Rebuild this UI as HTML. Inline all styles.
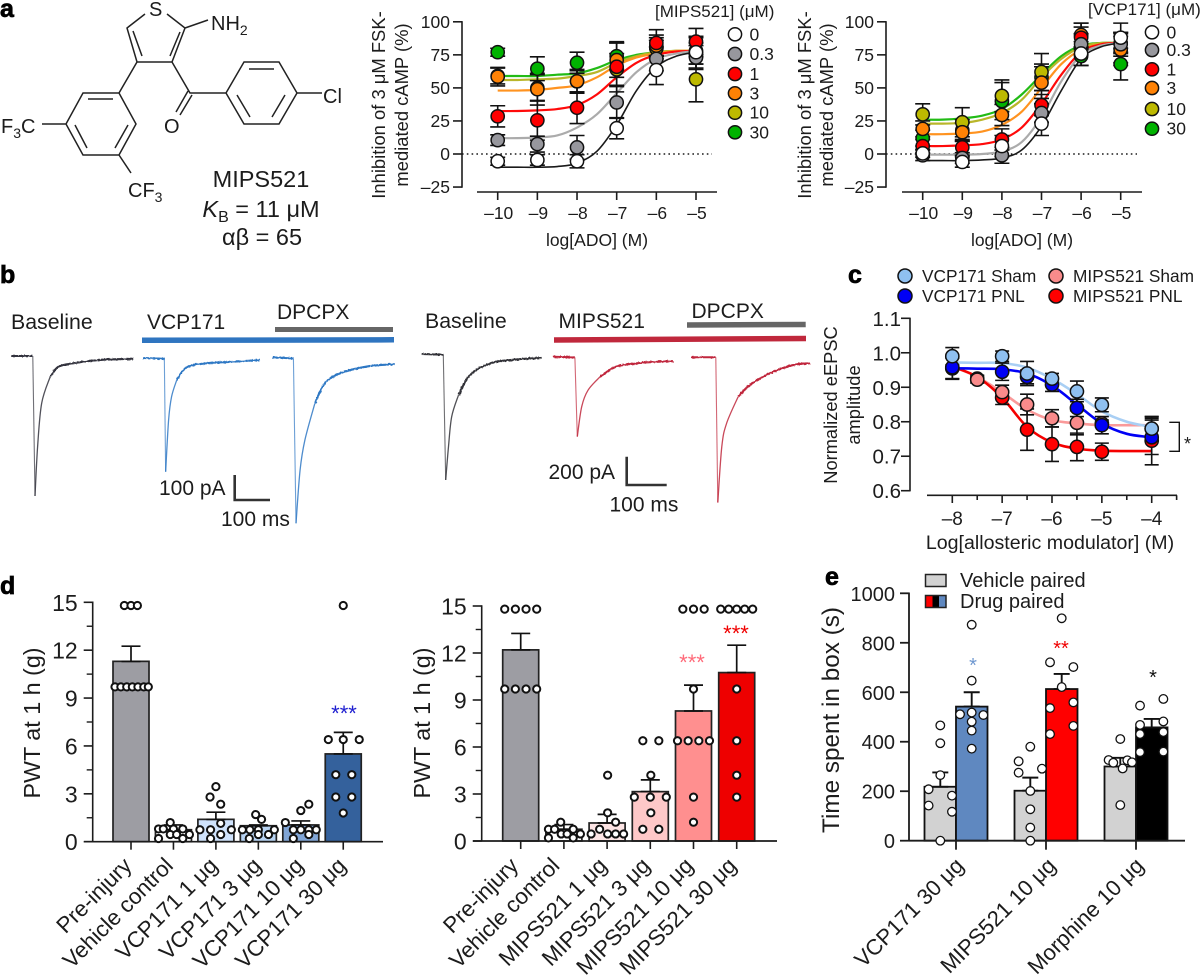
<!DOCTYPE html>
<html lang="en">
<head>
<meta charset="utf-8">
<title>MIPS521 and VCP171 figure</title>
<style>
html,body{margin:0;padding:0;background:#fff;}
svg{display:block;}
text{font-family:"Liberation Sans",Arial,sans-serif;fill:#1c1c1c;}
.lbl{font-weight:bold;font-size:25px;stroke:#000;stroke-width:.7px;fill:#000;}
.mol{font-size:20px;}
.mol2{font-size:23.5px;}
</style>
</head>
<body>
<svg id="fig" xmlns="http://www.w3.org/2000/svg" width="1200" height="977" viewBox="0 0 1200 977">
<defs>
<filter id="noise" filterUnits="userSpaceOnUse" x="0" y="200" width="1200" height="360"><feTurbulence type="fractalNoise" baseFrequency="0.45" numOctaves="2" seed="4"/><feDisplacementMap in="SourceGraphic" scale="2.2" xChannelSelector="R" yChannelSelector="G"/></filter>
</defs>
<rect x="0" y="0" width="1200" height="977" fill="#fff"/>
<text class="lbl" x="0" y="17">a</text>
<text class="lbl" x="0" y="283">b</text>
<text class="lbl" x="848" y="283">c</text>
<text class="lbl" x="0" y="594">d</text>
<text class="lbl" x="825" y="585">e</text>

<g>
<path fill="none" stroke="#222" stroke-width="1.5" d="M145 14L127 28L137 62L172 62L185 28L167 14M133 31L142 56M180 32L170 56M185 28L208 20M172 62L190 93L226 93L244 62L279 62L297 93L279 124L244 124L226 93M249 69L274 69M237 95L250 117M285 95L272 117M297 93L322 93M188 91L176 112M192 95L180 115M137 62L119 93L83 93L66 124L83 155L119 155L136 124L119 93M88 99L113 99M75 125L87 148M128 125L115 148M119 155L131 173M66 124L42 124"/>
<text class="mol" x="149" y="16">S</text>
<text class="mol" x="211" y="30">NH<tspan font-size="14" dy="5">2</tspan></text>
<text class="mol" x="323" y="103">Cl</text>
<text class="mol" x="164" y="133">O</text>
<text class="mol" x="1" y="133">F<tspan font-size="14" dy="5">3</tspan><tspan dy="-5">C</tspan></text>
<text class="mol" x="128" y="197">CF<tspan font-size="14" dy="5">3</tspan></text>
<text class="mol2" x="261" y="187" text-anchor="middle">MIPS521</text>
<text class="mol2" x="261" y="217" text-anchor="middle"><tspan font-style="italic">K</tspan><tspan font-size="16" dy="5">B</tspan><tspan dy="-5"> = 11 μM</tspan></text>
<text class="mol2" x="262" y="245" text-anchor="middle">αβ = 65</text>
</g>
<g id="layer"></g>
</svg>
<script>
// ---------- Panel a (left) : MIPS521 ----------
const concLabelsA = ['0','0.3','1','3','10','30'];
const logAdo = [-10,-9,-8,-7,-6,-5];
const curveLogX = [-10,-9.5,-9,-8.5,-8,-7.5,-7,-6.5,-6,-5.5,-5];
const a1Means0 = [-5.5,-4.5,-5.5,19.5,63.5,77];
const a1Means03 = [10.5,7.5,5,39,72,73];
const a1Means1 = [28.5,25.5,35,66,84,85];
const a1Means3 = [58.5,49,55,71,82,78];
const a1Means10 = [59,50,55,64,80,56.5];
const a1Means30 = [77,64.5,69,74,80,76];
const a1Errs0 = [3,4,5,8,11,12];
const a1Errs03 = [4,6,9,12,9,9];
const a1Errs1 = [8,15,12,19,10,10];
const a1Errs3 = [7,12,9,13,8,10];
const a1Errs10 = [6,10,8,12,8,17];
const a1Errs30 = [3,9,8,10,6,8];
const a1Curve0 = [-10,-10,-10,-9.5,-7,2,22,48,66,74,77];
const a1Curve03 = [12,12,12.5,14,20,30,46,62,72,76,78];
const a1Curve1 = [32.5,32.5,33,34,37,45,58,69,75,77.5,78];
const a1Curve3 = [48,48,48.5,50,52,58,67,73,76,78,78];
const a1Curve10 = [56,56,56.5,57,59,62,69,74,77,78,78];
const a1Curve30 = [59,59,59,60,61,65,71,75,77,78,78];
// ---------- Panel a (right) : VCP171 ----------
const a2Means0 = [0.5,-6,6,23,76,88];
const a2Means03 = [-1,-3,-1,31,83,83];
const a2Means1 = [6,5,11,37,88,84];
const a2Means3 = [19,16.5,29.5,54,90,79];
const a2Means10 = [30,24,44,62,89,79];
const a2Means30 = [12,18,40,58,74,68];
const a2Errs0 = [3,4,8,9,9,11];
const a2Errs03 = [4,4,6,7,8,9];
const a2Errs1 = [5,6,8,8,8,8];
const a2Errs3 = [6,7,8,12,9,10];
const a2Errs10 = [8,11,12,14,10,12];
const a2Errs30 = [6,8,14,10,7,12];
const a2Curve0 = [-5,-5,-5,-4.5,-3,3,21,48,72,81,84];
const a2Curve03 = [-0.5,-0.5,-0.5,0,2,9,28,55,75,82,84];
const a2Curve1 = [6,6,6.5,7.5,11,20,38,60,77,83,84];
const a2Curve3 = [15,15,15.5,17,22,32,50,68,79,83,84];
const a2Curve10 = [23,23,23.5,26,31,41,58,72,81,84,84];
const a2Curve30 = [26,26,27,29,34,45,60,74,82,84,84];
const aTicksY = [-25,0,25,50,75,100];
// ---------- Panel b traces (time ms, current pA) ----------
const baseLTime = [0,57,63,70,81,104,126,167,239,329];
const baseLCur = [0,0,-560,-363,-189,-83,-43,-29,-16,-11];
const vcpTime = [0,58.5,62,70,78,92,119,173,245,317];
const vcpCur = [0,-3,-455,-248,-155,-88,-37,-21,-15,-8];
const vcpDpTime = [0,56,63,74,87,114,141,182,254,330];
const vcpDpCur = [0,-5,-664,-451,-331,-184,-104,-64,-37,-27];
const baseRTime = [0,54,60,67,75,92,121,171,237,300];
const baseRCur = [0,-5,-887,-652,-441,-289,-148,-66,-38,-28];
const mipsTime = [0,54,60,71,87,117,158,225,300];
const mipsCur = [0,-5,-563,-352,-235,-141,-70,-42,-31];
const mipsDpTime = [0,62,67,77,89,118,147,197,256,297];
const mipsDpCur = [0,0,-1023,-629,-465,-277,-195,-113,-54,-42];
// ---------- Panel c ----------
const cTicksY = [0.6,0.7,0.8,0.9,1.0,1.1];
const cTicksX = [-8,-7,-6,-5,-4];
const cMinorX = [-8,-7.5,-7,-6.5,-6,-5.5,-5,-4.5,-4,-3.5];
const cLogX = [-8,-7.5,-7,-6.5,-6,-5.5,-5,-4];
const cCurveX = [-8,-7.5,-7,-6.5,-6,-5.5,-5,-4.5,-4];
const cVcpShamMeans = [0.99,null,0.99,0.94,0.925,0.888,0.849,0.78];
const cVcpShamErrs = [0.025,0,0.015,0.035,0.015,0.03,0.02,0.035];
const cVcpPnlMeans = [0.958,null,0.945,0.93,0.908,0.84,0.79,0.755];
const cVcpPnlErrs = [0.035,0,0.025,0.02,0.02,0.025,0.025,0.05];
const cMipsShamMeans = [0.955,0.922,0.886,0.85,0.81,0.797,0.795,0.78];
const cMipsShamErrs = [0.03,0.01,0.02,0.03,0.025,0.035,0.01,0.03];
const cMipsPnlMeans = [0.955,0.925,0.87,0.777,0.735,0.727,0.713,0.745];
const cMipsPnlErrs = [0.03,0.01,0.02,0.06,0.05,0.04,0.025,0.07];
const cVcpShamCurve = [0.972,0.971,0.97,0.957,0.925,0.88,0.83,0.80,0.785];
const cVcpPnlCurve = [0.955,0.954,0.952,0.94,0.905,0.85,0.795,0.765,0.755];
const cMipsShamCurve = [0.96,0.93,0.885,0.835,0.805,0.795,0.79,0.79,0.79];
const cMipsPnlCurve = [0.96,0.93,0.87,0.785,0.74,0.722,0.716,0.715,0.715];
// ---------- Panel d ----------
const dTicksY = [0,3,6,9,12,15];
const dMinorY = [1.5,4.5,7.5,10.5,13.5];
const d1Cats = ['Pre-injury','Vehicle control','VCP171 1 μg','VCP171 3 μg','VCP171 10 μg','VCP171 30 μg'];
const d1Means = [11.3,0.75,1.4,1.0,1.05,5.5];
const d1ErrTops = [12.25,1.05,1.85,1.05,1.3,6.85];
const d1Dots0 = [14.8,14.8,14.8,9.7,9.7,9.7,9.7,9.7,9.7,9.7];
const d1Slots0 = [-1.25,0,1.2,-3,-1.9,-0.8,0.25,1.3,2.4,3.25];
const d1Dots1 = [0.8,0.8,0.8,0.8,1.2,0.45,0.45,0.45,0.2,0.2];
const d1Slots1 = [-2.8,-1.9,0,1.75,-0.6,-0.6,0.6,3,-2.8,1.75];
const d1Dots2 = [3.45,2.8,2.35,1.15,0.75,0.75,0.75,0.45,0.2];
const d1Slots2 = [0,-1.1,0.9,0.9,-3,-1,2.9,0.9,-1];
const d1Dots3 = [1.7,1.4,0.75,0.75,0.75,0.75,0.45,0.45,0.2];
const d1Slots3 = [-0.5,0.6,-3,-1.6,0,3,0,1.9,-1.7];
const d1Dots4 = [2.35,1.95,1.2,0.75,0.75,0.75,0.75,0.45,0.2];
const d1Slots4 = [1.5,0,-2.9,-1.4,0,1.5,2.9,1.5,-1.4];
const d1Dots5 = [14.8,6.4,6.4,6.4,4.2,4.2,2.8,2.8,1.8];
const d1Slots5 = [0,-2.8,0,3,-1.4,1.6,-1.4,1.6,0];
const d2Cats = ['Pre-injury','Vehicle control','MIPS521 1 μg','MIPS521 3 μg','MIPS521 10 μg','MIPS521 30 μg'];
const d2Means = [12.2,0.75,1.15,3.15,8.3,10.75];
const d2ErrTops = [13.25,1.05,1.7,3.9,9.95,12.5];
const d2Dots0 = [14.8,14.8,14.8,14.8,9.7,9.7,9.7,9.7];
const d2Slots0 = [-3,-1,1,3,-3,-1,1,3];
const d2Dots1 = [0.75,0.75,1.2,0.75,0.45,0.45,0.45,0.2,0.2];
const d2Slots1 = [-2.9,-1.75,-0.6,1.75,-0.5,0.6,3.1,-2.9,1.75];
const d2Dots2 = [4.2,1.8,1.2,0.75,0.45,0.45,0.45,0.45];
const d2Slots2 = [0.1,0.1,1.6,-1.4,-3,0.1,1.6,3.1];
const d2Dots3 = [6.4,6.4,4.2,2.8,2.8,2.8,1.8,0.75,0.75];
const d2Slots3 = [-1.4,1.6,0.1,-3,0,3,0.1,-1.4,1.6];
const d2Dots4 = [14.8,14.8,14.8,9.7,6.4,6.4,6.4,6.4,2.8,1.2];
const d2Slots4 = [-2,0,2,0,-3,-1,1,3,0,0];
const d2Dots5 = [14.8,14.8,14.8,14.8,14.8,9.7,6.4,4.2,2.8];
const d2Slots5 = [-3,-1.5,0,1.5,3,0,0,0,0];
// ---------- Panel e ----------
const eTicksY = [0,200,400,600,800,1000];
const eCats = ['VCP171 30 μg','MIPS521 10 μg','Morphine 10 μg'];
const eVehicleMeans = [218,202,300];
const eVehicleErrTops = [276,255,335];
const eDrugMeans = [542,613,458];
const eDrugErrTops = [600,674,492];
const eVeh0 = [466,394,265,208,182,142,117,0];
const eVehS0 = [0,0,0,-1,1,-1,1,0];
const eDrug0 = [873,647,511,518,508,481,445,372];
const eDrugS0 = [0,0,-1,0,1,0,0,0];
const eVeh1 = [380,321,291,275,201,127,53,0];
const eVehS1 = [0,-1,1,-1,0,0,0,0];
const eDrug1 = [899,721,702,621,536,559,464,431];
const eDrugS1 = [0,-1,1,0,-1,1,1,-1];
const eVeh2 = [411,326,315,325,317,292,144];
const eVehS2 = [0,-1,-0.6,0.6,1,0.2,0];
const eDrug2 = [573,546,468,482,431,439,358,360];
const eDrugS2 = [1,-1,-1,1,-1,1,-1,1];

const NS = 'http://www.w3.org/2000/svg';
const root = document.getElementById('layer');
function mk(tag, attrs, parent) {
  const el = document.createElementNS(NS, tag);
  for (const k in attrs) el.setAttribute(k, attrs[k]);
  (parent || root).appendChild(el);
  return el;
}
function scale(d0, d1, r0, r1) { return v => r0 + (v - d0) * (r1 - r0) / (d1 - d0); }
function smooth(pts) {
  let d = 'M' + pts[0][0].toFixed(2) + ' ' + pts[0][1].toFixed(2);
  for (let i = 0; i < pts.length - 1; i++) {
    const p0 = pts[Math.max(i - 1, 0)], p1 = pts[i], p2 = pts[i + 1], p3 = pts[Math.min(i + 2, pts.length - 1)];
    d += 'C' + (p1[0] + (p2[0] - p0[0]) / 6).toFixed(2) + ' ' + (p1[1] + (p2[1] - p0[1]) / 6).toFixed(2) + ' ' +
      (p2[0] - (p3[0] - p1[0]) / 6).toFixed(2) + ' ' + (p2[1] - (p3[1] - p1[1]) / 6).toFixed(2) + ' ' +
      p2[0].toFixed(2) + ' ' + p2[1].toFixed(2);
  }
  return d;
}
function line(x1, y1, x2, y2, w, name, parent, col) {
  const el = mk('line', {x1: x1, y1: y1, x2: x2, y2: y2, stroke: col || '#1c1c1c', 'stroke-width': w}, parent);
  
  
  return el;
}
function label(str, x, y, size, anchor, name, parent, extra) {
  const attrs = {x: x, y: y, 'font-size': size, 'text-anchor': anchor || 'start'};
  if (extra) for (const k in extra) attrs[k] = extra[k];
  const el = mk('text', attrs, parent);
  el.textContent = str;
  
  
  return el;
}
function fmtMinus(v) { return v < 0 ? '–' + Math.abs(v) : String(v); }
function circle(cx, cy, r, fill, sw, name, parent) {
  const el = mk('circle', {cx: cx, cy: cy, r: r, fill: fill, stroke: '#111', 'stroke-width': sw}, parent);
  
  
  return el;
}
function errBar(cx, y1, y2, capW, name, parent) {
  const g = mk('path', {d: 'M' + cx + ' ' + y1 + 'V' + y2 + 'M' + (cx - capW) + ' ' + y1 + 'H' + (cx + capW) + 'M' + (cx - capW) + ' ' + y2 + 'H' + (cx + capW), fill: 'none', stroke: '#111', 'stroke-width': 1.6}, parent);
  
  
  return g;
}

// ===== Dose-response panels a =====
const seriesColors = ['#ffffff','#97979d','#ff0000','#ff8205','#bdb900','#00b300'];
const lineColors = ['#1a1a1a','#ababab','#ff0a0a','#ff9320','#b9b62a','#22bb16'];
function doseChart(o) {
  const g = mk('g', {});
  
  
  const x = scale(-10, -5, o.x10, o.x5), y = scale(0, 100, 154, 21.8);
  line(o.yAxisX, y(100) - 0.7, o.yAxisX, y(-25) + 0.7, 1.6, 'y-axis', g);
  line(o.xAxis0, 192, o.xAxis1, 192, 1.6, 'x-axis', g);
  aTicksY.forEach(t => {
    line(o.yAxisX - 9, y(t), o.yAxisX, y(t), 1.6, 'y-tick', g);
    label(fmtMinus(t), o.yAxisX - 12, y(t) + 6, 17.5, 'end', 'y-tick-label', g);
  });
  logAdo.forEach(t => {
    line(x(t), 192, x(t), 200, 1.6, 'x-tick', g);
    label(fmtMinus(t), x(t) + 1, 219, 17.5, 'middle', 'x-tick-label', g);
  });
  const zero = line(o.yAxisX, y(0), o.zeroEnd, y(0), 1.5, 'zero-reference-line', g);
  zero.setAttribute('stroke-dasharray', '1.6 3.2');
  label('Inhibition of 3 μM FSK-', o.title1, 105, 18.4, 'middle', 'y-axis-title-line-1', g, {transform: 'rotate(-90 ' + o.title1 + ' 105)'});
  label('mediated cAMP (%)', o.title2, 105, 18.4, 'middle', 'y-axis-title-line-2', g, {transform: 'rotate(-90 ' + o.title2 + ' 105)'});
  label('log[ADO] (M)', o.xTitle, 246, 17.5, 'middle', 'x-axis-title', g);
  for (let s = 5; s >= 0; s--) {
    const pts = curveLogX.map((lx, i) => [x(lx), y(o.curves[s][i])]);
    const c = mk('path', {d: smooth(pts), fill: 'none', stroke: lineColors[s], 'stroke-width': s === 0 ? 1.6 : 2.2}, g);
    
    
  }
  for (let s = 5; s >= 0; s--) {
    logAdo.forEach((lx, i) => {
      const m = o.means[s][i], e = o.errs[s][i];
      errBar(x(lx), y(m - e), y(m + e), 7.5, 'error-bar-' + concLabelsA[s], g);
    });
  }
  for (let s = 5; s >= 0; s--) {
    logAdo.forEach((lx, i) => {
      circle(x(lx), y(o.means[s][i]), 6.6, seriesColors[s], 1.5, 'point-' + concLabelsA[s], g);
    });
  }
  label(o.legendTitle, o.legendTitleX, o.legendTitleY, 17, 'start', 'legend-title', g);
  concLabelsA.forEach((c, i) => {
    circle(o.legX, o.legY[i], 6.6, seriesColors[i], 1.5, 'legend-marker-' + c, g);
    label(c, o.legX + 14.5, o.legY[i] + 6, 17.5, 'start', 'legend-label-' + c, g);
  });
}
doseChart({name: 'mips521-dose-response-chart', x10: 497.7, x5: 696, yAxisX: 462, xAxis0: 477, xAxis1: 717, zeroEnd: 712, title1: 385, title2: 408, xTitle: 597,
  curves: [a1Curve0,a1Curve03,a1Curve1,a1Curve3,a1Curve10,a1Curve30],
  means: [a1Means0,a1Means03,a1Means1,a1Means3,a1Means10,a1Means30],
  errs: [a1Errs0,a1Errs03,a1Errs1,a1Errs3,a1Errs10,a1Errs30],
  legendTitle: '[MIPS521] (μM)', legendTitleX: 655, legendTitleY: 17, legX: 735, legY: [34.3,54,74,93.3,112.7,132.3]});
doseChart({name: 'vcp171-dose-response-chart', x10: 922.7, x5: 1120.7, yAxisX: 886, xAxis0: 902, xAxis1: 1142, zeroEnd: 1137, title1: 811, title2: 833, xTitle: 1022,
  curves: [a2Curve0,a2Curve03,a2Curve1,a2Curve3,a2Curve10,a2Curve30],
  means: [a2Means0,a2Means03,a2Means1,a2Means3,a2Means10,a2Means30],
  errs: [a2Errs0,a2Errs03,a2Errs1,a2Errs3,a2Errs10,a2Errs30],
  legendTitle: '[VCP171] (μM)', legendTitleX: 1088, legendTitleY: 15, legX: 1152, legY: [32.3,50,69.3,88,109,128.7]});

// ===== Panel b =====
function trace(times, cur, x0, y0, pxMs, pxPa, col, name) {
  const sx = t => x0 + t * pxMs, sy = c => y0 - c * pxPa;
  const spike = cur.indexOf(Math.min.apply(null, cur));
  const p1 = times.slice(0, spike + 1).map((t, i) => [sx(t), sy(cur[i])]);
  const p2 = times.slice(spike).map((t, i) => [sx(t), sy(cur[spike + i])]);
  const pre = mk('polyline', {points: p1.slice(spike - 1).map(p => p.join(',')).join(' '), fill: 'none', stroke: col, 'stroke-width': 1.1, 'stroke-linejoin': 'round', opacity: 0.7});
  
  
  const base = mk('polyline', {points: p1.slice(0, spike).map(p => p.join(',')).join(' '), fill: 'none', stroke: col, 'stroke-width': 2, filter: 'url(#noise)'});
  
  
  const fall = mk('path', {d: smooth(p2.slice(0, 4)), fill: 'none', stroke: col, 'stroke-width': 1.3, opacity: 0.85});
  
  
  const dec = mk('path', {d: smooth(p2.slice(3)), fill: 'none', stroke: col, 'stroke-width': 2.1, filter: 'url(#noise)'});
  
  
}
const pbL = 0.37, paL = 0.25, pbR = 0.4, paR = 0.142;
trace(baseLTime, baseLCur, 11.7, 356, pbL, paL, '#33333d', 'baseline-trace-vcp171');
trace(vcpTime, vcpCur, 142.7, 358, pbL, paL, '#2f78c4', 'vcp171-trace');
trace(vcpDpTime, vcpDpCur, 272.7, 357.3, pbL, paL, '#2f78c4', 'vcp171-dpcpx-trace');
trace(baseRTime, baseRCur, 421.7, 354, pbR, paR, '#333338', 'baseline-trace-mips521');
trace(mipsTime, mipsCur, 553.3, 356.7, pbR, paR, '#c0283c', 'mips521-trace');
trace(mipsDpTime, mipsDpCur, 691, 357.3, pbR, paR, '#c0283c', 'mips521-dpcpx-trace');
line(275, 329.5, 393, 329.5, 5, 'dpcpx-bar-left', null, '#666');
line(142, 340.3, 394, 339.8, 5.5, 'vcp171-bar', null, '#2f75c0');
line(687, 325, 805.7, 324.5, 5.5, 'dpcpx-bar-right', null, '#666');
line(554, 340, 806, 338.5, 5.5, 'mips521-bar', null, '#c0283c');
label('Baseline', 11, 329, 21.3, 'start', 'baseline-label-left');
label('VCP171', 147, 329, 21, 'start', 'vcp171-label');
label('DPCPX', 277, 319, 21, 'start', 'dpcpx-label-left');
label('100 pA', 159, 495, 21, 'start', 'scale-current-label-left');
label('100 ms', 221, 526, 21, 'start', 'scale-time-label-left');
label('Baseline', 425, 328, 21.3, 'start', 'baseline-label-right');
label('MIPS521', 558.5, 328, 21, 'start', 'mips521-label');
label('DPCPX', 691.5, 318, 21, 'start', 'dpcpx-label-right');
label('200 pA', 548.5, 479, 21, 'start', 'scale-current-label-right');
label('100 ms', 609.5, 511.5, 21, 'start', 'scale-time-label-right');
const sb1 = mk('path', {d: 'M234.7 475V500H270', fill: 'none', stroke: '#333', 'stroke-width': 2.6});


const sb2 = mk('path', {d: 'M626.7 456.7V485H666.7', fill: 'none', stroke: '#333', 'stroke-width': 2.6});



// ===== Panel c =====
(function () {
  const g = mk('g', {});
  
  
  const x = scale(-8, -4, 952.3, 1151.7), y = scale(0.6, 1.1, 490.7, 318.3);
  line(910, y(1.1) - 0.7, 910, y(0.6) + 0.7, 1.6, 'y-axis', g);
  line(927, 495.3, 1177, 495.3, 1.6, 'x-axis', g);
  cTicksY.forEach(t => {
    line(901, y(t), 910, y(t), 1.6, 'y-tick', g);
    label(t.toFixed(1), 901, y(t) + 7.5, 20.5, 'end', 'y-tick-label', g);
  });
  cMinorX.forEach(t => line(x(t), 495.3, x(t), Number.isInteger(t) ? 503 : 500, 1.6, 'x-tick', g));
  cTicksX.forEach(t => label(fmtMinus(t), x(t), 525, 19, 'middle', 'x-tick-label', g));
  label('Log[allosteric modulator] (M)', 1050, 549, 19.6, 'middle', 'x-axis-title', g);
  label('Normalized eEPSC', 837, 405, 18.3, 'middle', 'y-axis-title-line-1', g, {transform: 'rotate(-90 837 405)'});
  label('amplitude', 860, 405, 18.3, 'middle', 'y-axis-title-line-2', g, {transform: 'rotate(-90 860 405)'});
  const sets = [
    {k: 'mips521-pnl', col: '#ff0000', line: '#f50000', m: cMipsPnlMeans, e: cMipsPnlErrs, c: cMipsPnlCurve},
    {k: 'mips521-sham', col: '#f98b8b', line: '#fa9a9a', m: cMipsShamMeans, e: cMipsShamErrs, c: cMipsShamCurve},
    {k: 'vcp171-pnl', col: '#0000f5', line: '#0000f5', m: cVcpPnlMeans, e: cVcpPnlErrs, c: cVcpPnlCurve},
    {k: 'vcp171-sham', col: '#8fc0f0', line: '#a9cff4', m: cVcpShamMeans, e: cVcpShamErrs, c: cVcpShamCurve}];
  [1,3,0,2].forEach(i => {
    const s = sets[i];
    const p = mk('path', {d: smooth(cCurveX.map((lx, j) => [x(lx), y(s.c[j])])), fill: 'none', stroke: s.line, 'stroke-width': 2.6}, g);
    
    
  });
  sets.forEach(s => cLogX.forEach((lx, j) => {
    if (s.m[j] !== null && s.e[j] > 0) errBar(x(lx), y(s.m[j] - s.e[j]), y(s.m[j] + s.e[j]), 7, 'error-bar-' + s.k, g);
  }));
  sets.forEach(s => cLogX.forEach((lx, j) => {
    if (s.m[j] !== null) circle(x(lx), y(s.m[j]), 6.6, s.col, 1.5, 'point-' + s.k, g);
  }));
  circle(905, 276, 7, '#8fc0f0', 1.5, 'legend-marker-vcp171-sham', g);
  circle(905, 296, 7, '#0000f5', 1.5, 'legend-marker-vcp171-pnl', g);
  circle(1056, 276, 7, '#f98b8b', 1.5, 'legend-marker-mips521-sham', g);
  circle(1056, 296, 7, '#ff0000', 1.5, 'legend-marker-mips521-pnl', g);
  label('VCP171 Sham', 922, 282, 17.3, 'start', 'legend-label-vcp171-sham', g);
  label('VCP171 PNL', 922, 302, 17.3, 'start', 'legend-label-vcp171-pnl', g);
  label('MIPS521 Sham', 1073, 282, 17.3, 'start', 'legend-label-mips521-sham', g);
  label('MIPS521 PNL', 1073, 302, 17.3, 'start', 'legend-label-mips521-pnl', g);
  const br = mk('path', {d: 'M1169.3 422.3H1179.3V451.3H1169.3', fill: 'none', stroke: '#111', 'stroke-width': 1.4}, g);
  
  
  label('*', 1184, 450, 18, 'start', 'significance-star', g);
})();

// ===== Panel d =====
function barChart(o) {
  const g = mk('g', {});
  
  
  const y = scale(0, 15, o.y0, o.y15);
  line(o.axisX, o.y15 - 0.8, o.axisX, o.y0, 1.6, 'y-axis', g);
  o.means.forEach((m, i) => {
    const cx = o.x0 + i * o.step;
    const b = mk('rect', {x: cx - 18, y: y(m), width: 36, height: o.y0 - y(m), fill: o.colors[i], stroke: '#222', 'stroke-width': 1.7}, g);
    
    
    errBar(cx, y(m), y(o.tops[i]), 9.5, 'error-bar', g).setAttribute('stroke-width', 1.7);
    line(cx, o.y0, cx, o.y0 + 8, 1.6, 'x-tick', g);
    label(o.cats[i], cx + o.lblDx[i], 867, 22.3, 'end', 'x-tick-label', g, {transform: 'rotate(-45 ' + (cx + o.lblDx[i]) + ' 867)'});
  });
  line(o.axis0, o.y0, o.axis1, o.y0, 1.7, 'x-axis', g);
  o.dots.forEach((vals, i) => {
    const cx = o.x0 + i * o.step;
    vals.forEach((v, j) => circle(cx + o.slots[i][j] * 5.33, y(v), 3.6, '#fff', 2, 'data-point', g));
  });
  dTicksY.forEach(t => {
    line(o.axisX - 9, y(t), o.axisX, y(t), 1.6, 'y-tick', g);
    label(String(t), o.axisX - 15, y(t) + 8.5, 23, 'end', 'y-tick-label', g);
  });
  dMinorY.forEach(t => line(o.axisX - 6, y(t), o.axisX, y(t), 1.4, 'y-minor-tick', g));
  label('PWT at 1 h (g)', o.titleX, 723, 23.3, 'middle', 'y-axis-title', g, {transform: 'rotate(-90 ' + o.titleX + ' 723)'});
}
barChart({name: 'vcp171-pwt-bar-chart', x0: 131, step: 42.45, y0: 841.7, y15: 602.3, axisX: 92.7, axis0: 84, axis1: 383, titleX: 40,
  cats: d1Cats, means: d1Means, tops: d1ErrTops, lblDx: [2,1,3,4,4,4],
  colors: ['#9d9da3','#ffffff','#cfe2fb','#b7d3f3','#80a5d6','#34619c'],
  dots: [d1Dots0,d1Dots1,d1Dots2,d1Dots3,d1Dots4,d1Dots5], slots: [d1Slots0,d1Slots1,d1Slots2,d1Slots3,d1Slots4,d1Slots5]});
barChart({name: 'mips521-pwt-bar-chart', x0: 520.7, step: 43.2, y0: 841, y15: 606, axisX: 481.7, axis0: 473, axis1: 777, titleX: 430,
  cats: d2Cats, means: d2Means, tops: d2ErrTops, lblDx: [-1,-3,1,1,1,1],
  colors: ['#9d9da3','#ffffff','#fde5e5','#fec8c8','#ff8f8f','#ee0000'],
  dots: [d2Dots0,d2Dots1,d2Dots2,d2Dots3,d2Dots4,d2Dots5], slots: [d2Slots0,d2Slots1,d2Slots2,d2Slots3,d2Slots4,d2Slots5]});
label('***', 344, 721, 22, 'middle', 'significance-vcp171-30', null, {style: 'fill:#2020d0'});
label('***', 692, 670, 22, 'middle', 'significance-mips521-10', null, {style: 'fill:#ff6b7a'});
label('***', 736, 641, 22, 'middle', 'significance-mips521-30', null, {style: 'fill:#f00000'});

// ===== Panel e =====
(function () {
  const g = mk('g', {});
  
  
  const y = scale(0, 1000, 840.7, 593.3);
  const groupX = [956, 1046, 1136];
  const drugColors = ['#5f88c0','#ff0000','#000000'];
  const vehDots = [eVeh0,eVeh1,eVeh2], vehSlots = [eVehS0,eVehS1,eVehS2];
  const drugDots = [eDrug0,eDrug1,eDrug2], drugSlots = [eDrugS0,eDrugS1,eDrugS2];
  const lblDx = [9, 11, 9];
  line(909, y(1000) - 0.8, 909, y(0), 1.8, 'y-axis', g);
  eCats.forEach((c, i) => {
    const gx = groupX[i];
    const v = mk('rect', {x: gx - 31.5, y: y(eVehicleMeans[i]), width: 31.5, height: y(0) - y(eVehicleMeans[i]), fill: '#d2d2d2', stroke: '#111', 'stroke-width': 1.8}, g);
    
    
    const d = mk('rect', {x: gx, y: y(eDrugMeans[i]), width: 31.5, height: y(0) - y(eDrugMeans[i]), fill: drugColors[i], stroke: '#111', 'stroke-width': 1.8}, g);
    
    
    errBar(gx - 15.7, y(eVehicleMeans[i]), y(eVehicleErrTops[i]), 8, 'vehicle-error-bar', g).setAttribute('stroke-width', 1.9);
    errBar(gx + 15.7, y(eDrugMeans[i]), y(eDrugErrTops[i]), 8, 'drug-error-bar', g).setAttribute('stroke-width', 1.9);
    line(gx, y(0), gx, y(0) + 9, 1.8, 'x-tick', g);
    label(c, gx + lblDx[i], 867, 22, 'end', 'x-tick-label', g, {transform: 'rotate(-45 ' + (gx + lblDx[i]) + ' 867)'});
  });
  line(909, y(0), 1185, y(0), 1.8, 'x-axis', g);
  eCats.forEach((c, i) => {
    const gx = groupX[i];
    vehDots[i].forEach((val, j) => circle(gx - 15.7 + vehSlots[i][j] * 11.67, y(val), 4.3, '#fff', 1.3, 'vehicle-data-point', g));
    drugDots[i].forEach((val, j) => circle(gx + 15.7 + drugSlots[i][j] * 11.67, y(val), 4.3, '#fff', 1.3, 'drug-data-point', g));
  });
  eTicksY.forEach(t => {
    line(900, y(t), 909, y(t), 1.8, 'y-tick', g);
    label(String(t), 895, y(t) + 7.5, 20, 'end', 'y-tick-label', g);
  });
  label('Time spent in box (s)', 839, 720, 24.3, 'middle', 'y-axis-title', g, {transform: 'rotate(-90 839 720)'});
  const lb1 = mk('rect', {x: 925.5, y: 574.5, width: 20.5, height: 12, fill: '#d2d2d2', stroke: '#222', 'stroke-width': 1.5}, g);
  
  
  const lr = mk('rect', {x: 925.5, y: 595.5, width: 7, height: 12, fill: '#ff0000'}, g);
  
  
  const lk = mk('rect', {x: 932.5, y: 595.5, width: 6.5, height: 12, fill: '#000'}, g);
  
  
  const lbu = mk('rect', {x: 939, y: 595.5, width: 7, height: 12, fill: '#5f88c0'}, g);
  
  
  const lo = mk('rect', {x: 925.5, y: 595.5, width: 20.5, height: 12, fill: 'none', stroke: '#222', 'stroke-width': 1.5}, g);
  
  
  label('Vehicle paired', 960, 587, 20, 'start', 'legend-label-vehicle', g);
  label('Drug paired', 960, 608, 20, 'start', 'legend-label-drug', g);
  label('*', 973, 672, 20, 'middle', 'significance-vcp171', g, {style: 'fill:#6f98d0'});
  label('**', 1061, 655, 20, 'middle', 'significance-mips521', g, {style: 'fill:#f00000'});
  label('*', 1153, 684, 20, 'middle', 'significance-morphine', g, {style: 'fill:#111'});
})();
</script>
</body>
</html>
